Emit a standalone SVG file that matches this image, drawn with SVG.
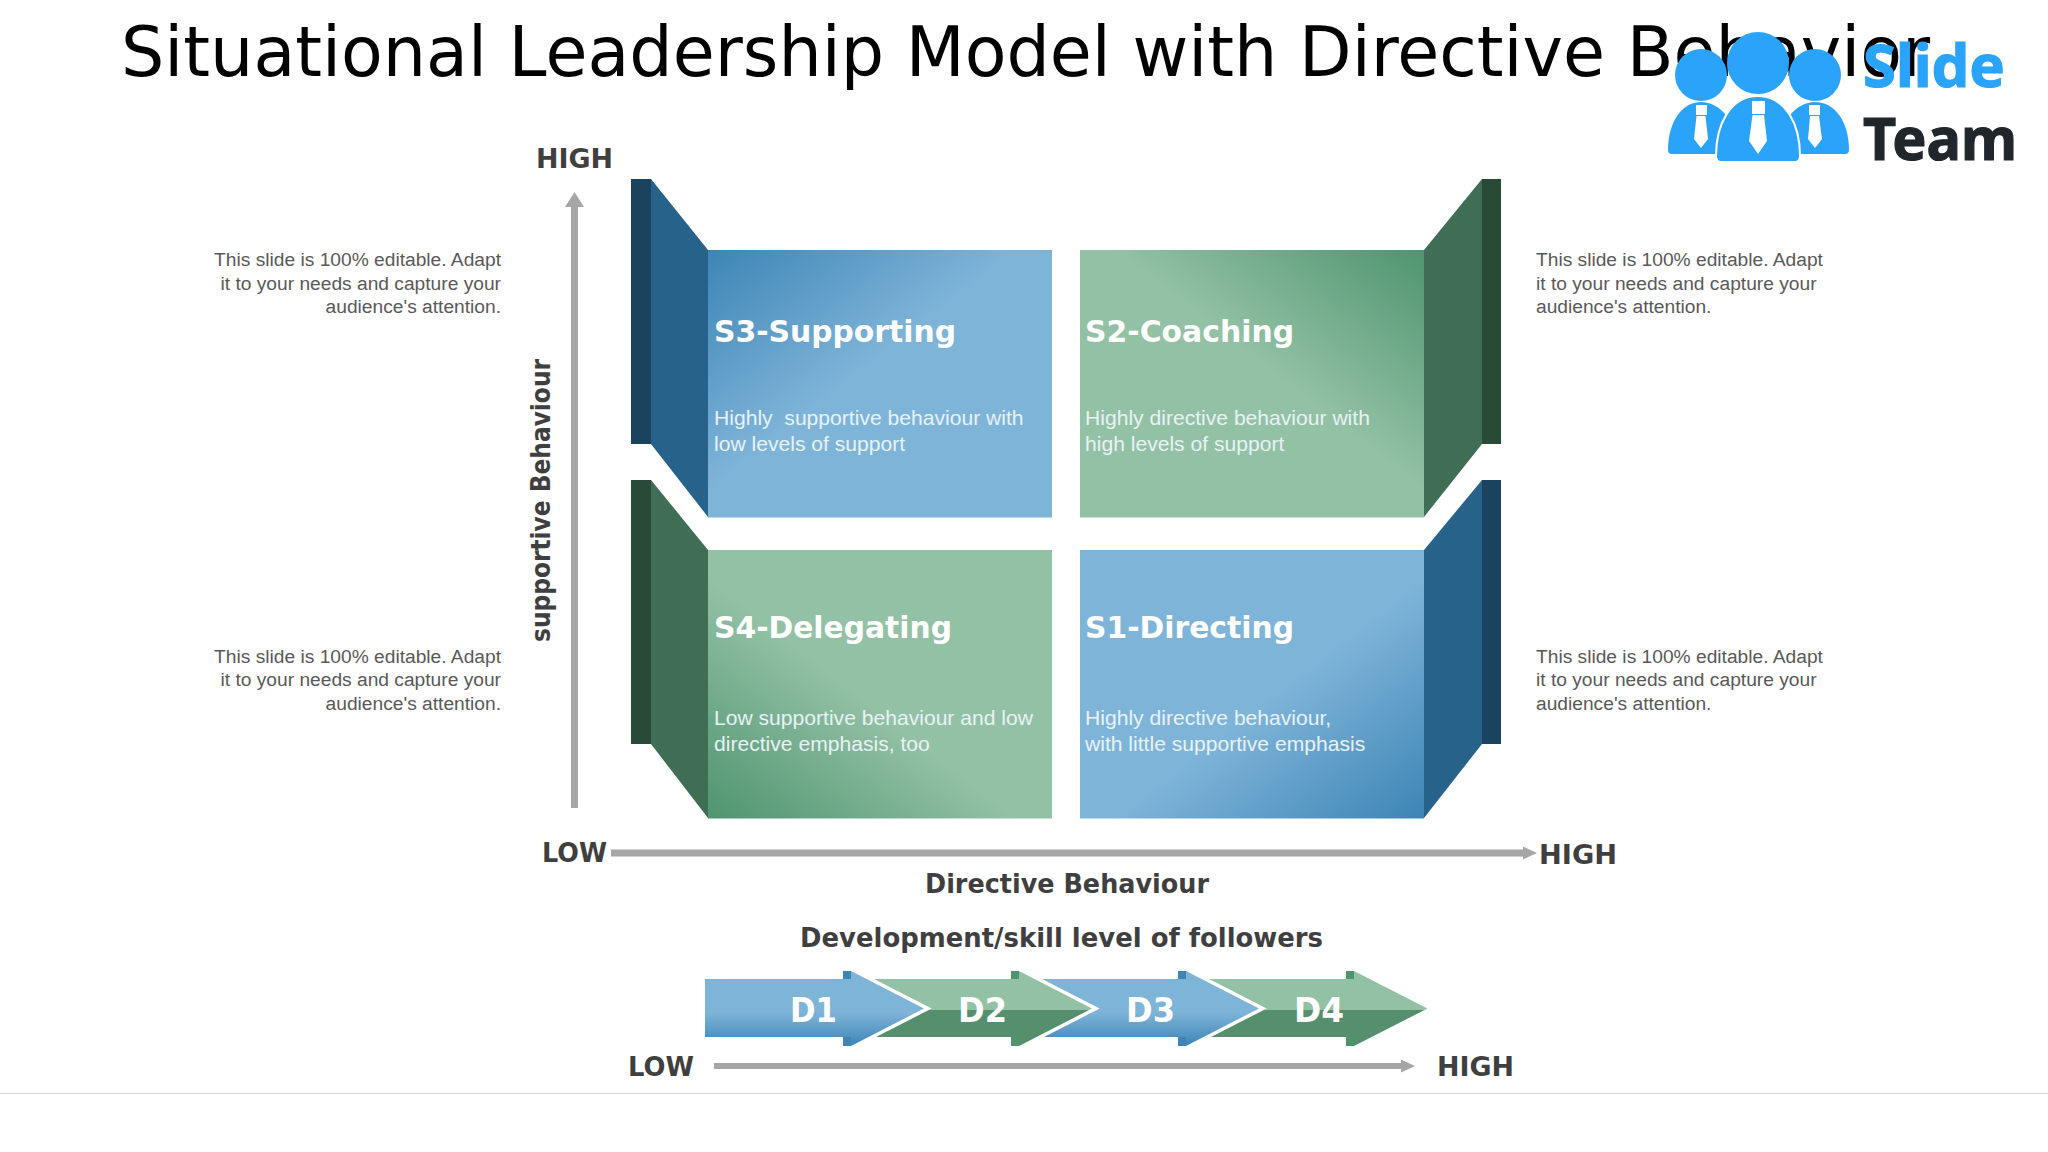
<svg xmlns="http://www.w3.org/2000/svg" width="2048" height="1152" viewBox="0 0 2048 1152">
<style>
text{white-space:pre}
.lab{font-family:"DejaVu Sans",Verdana,sans-serif;font-weight:700;fill:#3f3f3f;font-size:26px}
.head{font-family:"DejaVu Sans",Verdana,sans-serif;font-weight:700;fill:#fff;font-size:31px}
.body{font-family:"Liberation Sans",Arial,sans-serif;fill:#e8f2f5;font-size:21.1px}
.note{font-family:"Liberation Sans",Arial,sans-serif;fill:#595959;font-size:19.2px}
.dl{font-family:"DejaVu Sans",Verdana,sans-serif;font-weight:700;fill:#fff;font-size:33px}
.bs{fill:#27628b}.bd{fill:#1c435d}.gs{fill:#3f6e54}.gd{fill:#2a4a38}
.ax{fill:#a6a6a6}
.wh{fill:none;stroke:#fff;stroke-width:7;stroke-miterlimit:6}
.tie{fill:#fff}
.logo{fill:#2aa4fb}
</style>
<defs>
<linearGradient id="gTL" x1="0" y1="0" x2="1" y2="1"><stop offset="0" stop-color="#3d85b5"/><stop offset=".45" stop-color="#7fb4d9"/></linearGradient>
<linearGradient id="gBR" x1="1" y1="1" x2="0" y2="0"><stop offset="0" stop-color="#3d85b5"/><stop offset=".45" stop-color="#7fb4d9"/></linearGradient>
<linearGradient id="gTR" x1="1" y1="0" x2="0" y2="1"><stop offset="0" stop-color="#4f9470"/><stop offset=".45" stop-color="#93c1a5"/></linearGradient>
<linearGradient id="gBL" x1="0" y1="1" x2="1" y2="0"><stop offset="0" stop-color="#4f9470"/><stop offset=".45" stop-color="#93c1a5"/></linearGradient>
<linearGradient id="aB" x1="0" y1="0" x2="0" y2="1"><stop offset="0" stop-color="#7fb4d9"/><stop offset=".55" stop-color="#7fb4d9"/><stop offset="1" stop-color="#3d85b5"/></linearGradient>
<linearGradient id="aG" x1="0" y1="0" x2="0" y2="1"><stop offset="0" stop-color="#93c1a5"/><stop offset=".52" stop-color="#93c1a5"/><stop offset=".52" stop-color="#558f6d"/><stop offset="1" stop-color="#558f6d"/></linearGradient>
</defs>

<text id="title" x="121" y="76" textLength="1809" lengthAdjust="spacingAndGlyphs" font-family="'DejaVu Sans',Verdana,sans-serif" font-size="70" fill="#000">Situational Leadership Model with Directive Behavior</text>

<g id="logo">
<circle class="logo" cx="1701" cy="75" r="26"/>
<circle class="logo" cx="1815" cy="75" r="26"/>
<path class="logo" d="M1668 150C1668 122 1682 102 1701 102C1720 102 1738 122 1738 154L1672 154Q1668 154 1668 150Z"/>
<path class="logo" d="M1849 150C1849 122 1835 102 1815 102C1796 102 1778 122 1778 154L1845 154Q1849 154 1849 150Z"/>
<circle class="logo" cx="1758" cy="63" r="31"/>
<path class="logo" stroke="#fff" stroke-width="2" d="M1716 156C1716 125 1730 96 1758 96C1786 96 1800 125 1800 156Q1800 162 1795 162L1721 162Q1716 162 1716 156Z"/>
<path class="tie" d="M1696 105H1707V115H1696Z M1696.500 116H1705.500L1708 139L1701 148L1694 139Z"/>
<path class="tie" d="M1809 105H1820V115H1809Z M1810 116H1819L1822 139L1815 148L1808 139Z"/>
<path class="tie" d="M1752 101H1765V114H1752Z M1752.500 115H1764L1767 141L1758 154L1749 141Z"/>
<text x="1863" y="87" textLength="142" lengthAdjust="spacingAndGlyphs" font-family="'Noto Sans',sans-serif" font-weight="700" font-size="60" fill="#2aa4fb" stroke="#2aa4fb" stroke-width="1.200">Slide</text>
<text x="1863" y="160" textLength="154" lengthAdjust="spacingAndGlyphs" font-family="'Noto Sans',sans-serif" font-weight="700" font-size="60" fill="#20262c" stroke="#20262c" stroke-width="1.200">Team</text>
</g>

<g id="connectors">
<path class="ax" d="M571 808V207H565L574.500 192L584 207H578V808Z"/>
<path class="ax" d="M611 849.500H1523V846.500L1537 853L1523 859.500V856.500H611Z"/>
<path class="ax" d="M714 1063H1401V1059.500L1415 1066L1401 1072.500V1069H714Z"/>
</g>

<text id="label-high-y" class="lab" x="536" y="168" textLength="77" lengthAdjust="spacingAndGlyphs">HIGH</text>
<text id="label-y" class="lab" transform="translate(550 642) rotate(-90)" textLength="283" lengthAdjust="spacingAndGlyphs">supportive Behaviour</text>
<text id="label-low-x" class="lab" x="542" y="862" textLength="65" lengthAdjust="spacingAndGlyphs">LOW</text>
<text id="label-high-x" class="lab" x="1539" y="864" textLength="78" lengthAdjust="spacingAndGlyphs">HIGH</text>
<text id="label-x" class="lab" x="925" y="893" textLength="284" lengthAdjust="spacingAndGlyphs">Directive Behaviour</text>
<text id="label-dev" class="lab" x="800" y="947" textLength="523" lengthAdjust="spacingAndGlyphs">Development/skill level of followers</text>
<text id="label-low-b" class="lab" x="628" y="1076" textLength="66" lengthAdjust="spacingAndGlyphs">LOW</text>
<text id="label-high-b" class="lab" x="1437" y="1076" textLength="77" lengthAdjust="spacingAndGlyphs">HIGH</text>

<g id="note-tl" class="note" text-anchor="end"><text x="501" y="266">This slide is 100% editable. Adapt</text><text x="501" y="290">it to your needs and capture your</text><text x="501" y="313">audience's attention.</text></g>
<g id="note-bl" class="note" text-anchor="end"><text x="501" y="663">This slide is 100% editable. Adapt</text><text x="501" y="686">it to your needs and capture your</text><text x="501" y="710">audience's attention.</text></g>
<g id="note-tr" class="note"><text x="1536" y="266">This slide is 100% editable. Adapt</text><text x="1536" y="290">it to your needs and capture your</text><text x="1536" y="313">audience's attention.</text></g>
<g id="note-br" class="note"><text x="1536" y="663">This slide is 100% editable. Adapt</text><text x="1536" y="686">it to your needs and capture your</text><text x="1536" y="710">audience's attention.</text></g>

<g id="s3">
<rect class="bd" x="631" y="179" width="20" height="265"/>
<polygon class="bs" points="651,179 708,250 708,517 651,444"/>
<rect x="708" y="250" width="344" height="267.500" fill="url(#gTL)"/>
<text class="head" x="714" y="342" textLength="242" lengthAdjust="spacingAndGlyphs">S3-Supporting</text>
<text class="body" x="714" y="425">Highly  supportive behaviour with</text>
<text class="body" x="714" y="451">low levels of support</text>
</g>
<g id="s2">
<rect class="gd" x="1482" y="179" width="19" height="265"/>
<polygon class="gs" points="1482,179 1424,250 1424,517 1482,444"/>
<rect x="1080" y="250" width="344" height="267.500" fill="url(#gTR)"/>
<text class="head" x="1085" y="342" textLength="209" lengthAdjust="spacingAndGlyphs">S2-Coaching</text>
<text class="body" x="1085" y="425">Highly directive behaviour with</text>
<text class="body" x="1085" y="451">high levels of support</text>
</g>
<g id="s4">
<rect class="gd" x="631" y="480" width="20" height="264"/>
<polygon class="gs" points="651,480 708,550 708,818 651,744"/>
<rect x="708" y="550" width="344" height="268.500" fill="url(#gBL)"/>
<text class="head" x="714" y="638" textLength="238" lengthAdjust="spacingAndGlyphs">S4-Delegating</text>
<text class="body" x="714" y="725">Low supportive behaviour and low</text>
<text class="body" x="714" y="751">directive emphasis, too</text>
</g>
<g id="s1">
<rect class="bd" x="1482" y="480" width="19" height="264"/>
<polygon class="bs" points="1482,480 1424,550 1424,818 1482,744"/>
<rect x="1080" y="550" width="344" height="268.500" fill="url(#gBR)"/>
<text class="head" x="1085" y="638" textLength="209" lengthAdjust="spacingAndGlyphs">S1-Directing</text>
<text class="body" x="1085" y="725">Highly directive behaviour,</text>
<text class="body" x="1085" y="751">with little supportive emphasis</text>
</g>

<g id="d4">
<polygon fill="url(#aG)" points="1202,979 1354,979 1354,971 1427.500,1008.500 1354,1046 1354,1037 1202,1037"/>
<rect x="1346" y="971" width="8" height="8" fill="#4f9470"/><rect x="1346" y="1037" width="8" height="9" fill="#4f9470"/>
<text class="dl" x="1294" y="1022" textLength="50" lengthAdjust="spacingAndGlyphs">D4</text>
</g>
<g id="d3">
<polyline class="wh" points="1186,971 1259,1008.500 1186,1046"/>
<polygon fill="url(#aB)" points="1034,979 1186,979 1186,971 1259,1008.500 1186,1046 1186,1037 1034,1037"/>
<rect x="1178" y="971" width="8" height="8" fill="#3d85b5"/><rect x="1178" y="1037" width="8" height="9" fill="#3d85b5"/>
<text class="dl" x="1126" y="1022" textLength="49" lengthAdjust="spacingAndGlyphs">D3</text>
</g>
<g id="d2">
<polyline class="wh" points="1019,971 1092,1008.500 1019,1046"/>
<polygon fill="url(#aG)" points="866,979 1019,979 1019,971 1092,1008.500 1019,1046 1019,1037 866,1037"/>
<rect x="1011" y="971" width="8" height="8" fill="#4f9470"/><rect x="1011" y="1037" width="8" height="9" fill="#4f9470"/>
<text class="dl" x="958" y="1022" textLength="49" lengthAdjust="spacingAndGlyphs">D2</text>
</g>
<g id="d1">
<polyline class="wh" points="851,971 924,1008.500 851,1046"/>
<polygon fill="url(#aB)" points="705,979 851,979 851,971 924,1008.500 851,1046 851,1037 705,1037"/>
<rect x="843" y="971" width="8" height="8" fill="#3d85b5"/><rect x="843" y="1037" width="8" height="9" fill="#3d85b5"/>
<text class="dl" x="790" y="1022" textLength="47" lengthAdjust="spacingAndGlyphs">D1</text>
</g>

<rect id="baseline" x="0" y="1093" width="2048" height="1" fill="#d9d9d9"/>
</svg>
